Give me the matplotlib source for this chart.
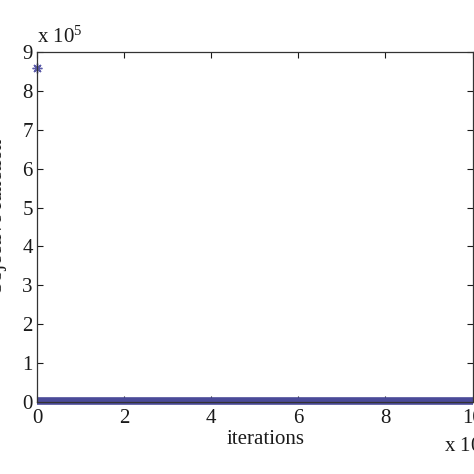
import matplotlib.pyplot as plt

plt.rcParams["font.family"] = ["Liberation Serif", "DejaVu Serif"]
plt.rcParams["mathtext.fontset"] = "custom"
plt.rcParams["mathtext.rm"] = "Liberation Serif"
plt.rcParams["mathtext.default"] = "regular"

# iterations in units of 1e4, objective in units of 1e5
start_iter = [0.0]
start_obj = [8.6]
tail_iter = [0.0, 10.0]
tail_obj = [0.03, 0.03]

xticks = [0, 2, 4, 6, 8, 10]
xticklabels = ["0", "2", "4", "6", "8", "10"]
yticks = [0, 1, 2, 3, 4, 5, 6, 7, 8, 9]

color = "#4a4a98"

fig = plt.figure(figsize=(4.74, 4.74), dpi=100)
ax = fig.add_axes([0.078, 0.152, 0.919, 0.738])

ax.plot(start_iter, start_obj, marker=(8, 2, 0), linestyle="none",
        color="#5a5aa8", markersize=7, markeredgewidth=1.0, clip_on=False)
ax.plot(tail_iter, tail_obj, "-", color=color, linewidth=5.5, clip_on=False,
        solid_capstyle="butt")

ax.set_xlim(0, 10)
ax.set_ylim(0, 9)
ax.set_xticks(xticks)
ax.set_xticklabels(xticklabels)
ax.set_yticks(yticks)
ax.tick_params(direction="in", length=4, width=0.8, top=True, right=True,
               labelsize=15, colors="#1a1a1a")
ax.tick_params(axis="x", pad=5)
ax.tick_params(axis="y", pad=3)
for s in ax.spines.values():
    s.set_linewidth(0.9)
    s.set_color("#333333")

ax.set_xlabel("iterations", fontsize=15, color="#1a1a1a")
ax.xaxis.set_label_coords(0.525, -0.08)
ax.set_ylabel("Objective function", fontsize=15, color="#1a1a1a")
ax.yaxis.set_label_coords(-0.069, 0.53)

# MATLAB-style exponent labels
fig.text(37 / 474, 1 - 43 / 474, "x 10$^5$", fontsize=15, ha="left",
         va="baseline", color="#1a1a1a")
fig.text(444 / 474, 1 - 452 / 474, "x 10$^4$", fontsize=15, ha="left",
         va="baseline", color="#1a1a1a")

fig.savefig("out.png", dpi=100)
